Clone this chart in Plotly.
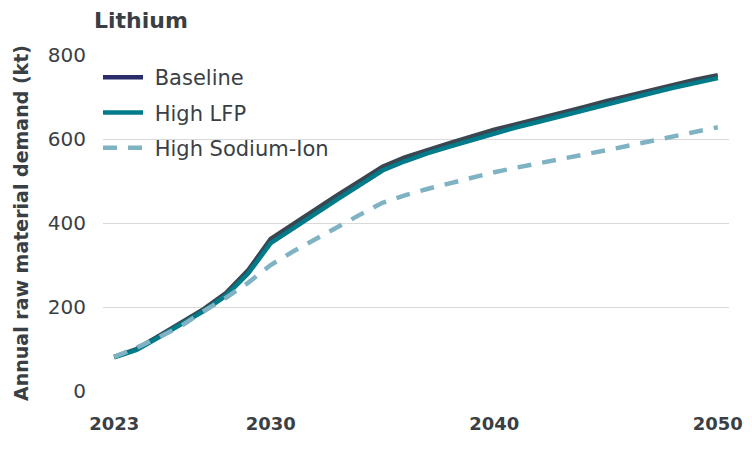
import plotly.graph_objects as go

years = list(range(2023, 2051))

baseline = [81, 100, 131, 162, 195, 233, 288, 362, 398, 432, 467, 500, 534, 556,
            574, 590, 606, 622, 635, 648, 662, 676, 690, 703, 716, 729, 741, 752]
high_lfp = [80, 98, 128, 158, 190, 227, 280, 352, 388, 423, 457, 491, 525, 547,
            566, 582, 598, 614, 628, 641, 655, 669, 683, 696, 709, 722, 734, 745]
high_sodium = [81, 103, 128, 155, 190, 222, 258, 300, 332, 362, 392, 420, 448, 466,
               481, 495, 508, 521, 532, 543, 553, 563, 573, 584, 595, 606, 617, 628]

x_ticks = [2023, 2030, 2040, 2050]
y_ticks = [0, 200, 400, 600, 800]

text_col = "#3a3f45"
font = "DejaVu Sans"

fig = go.Figure()
# baseline drawn in grey under the teal line, legend swatch in navy
fig.add_trace(go.Scatter(x=years, y=baseline, mode="lines", showlegend=False,
                         line=dict(color="#3b4651", width=4.5)))
fig.add_trace(go.Scatter(x=[None], y=[None], mode="lines", name=" Baseline",
                         legendgroup="a", line=dict(color="#2b2a6b", width=4.5)))
fig.add_trace(go.Scatter(x=years, y=high_lfp, mode="lines", name=" High LFP",
                         legendgroup="b", line=dict(color="#007b8a", width=4.5)))
fig.add_trace(go.Scatter(x=years, y=high_sodium, mode="lines", name=" High Sodium-Ion",
                         legendgroup="c",
                         line=dict(color="#7fb3c4", width=4.5, dash="14px,11px")))

# page is drawn with an 8px offset, so margins are shifted to compensate
fig.update_layout(
    width=752, height=451,
    margin=dict(l=95, r=31, t=47, b=68, autoexpand=False),
    plot_bgcolor="white", paper_bgcolor="white",
    font=dict(family=font, size=20, color=text_col),
    title=dict(text="<b>Lithium</b>", x=86/752, xanchor="left", y=1 - 12/451,
               yanchor="middle", font=dict(size=22, color=text_col)),
    legend=dict(x=-5/626, y=1 - 2/336, xanchor="left", yanchor="top",
                bgcolor="rgba(0,0,0,0)", font=dict(size=21, color=text_col),
                tracegroupgap=5, itemwidth=40),
)
fig.update_xaxes(range=[2022.5, 2050.5], tickvals=x_ticks,
                 ticktext=[f"<b>{t}</b>" for t in x_ticks],
                 showgrid=False, zeroline=False, showline=False, automargin=False,
                 ticks="", ticklabelstandoff=20, tickfont=dict(size=18))
fig.update_yaxes(range=[0, 800], tickvals=y_ticks, gridcolor="#d9d9d9",
                 gridwidth=1, zeroline=False, showline=False, ticks="",
                 automargin=False, ticklabelstandoff=16, tickfont=dict(size=20),
                 title=dict(text="<b>Annual raw material demand (kt)</b>",
                            font=dict(size=19, color=text_col), standoff=14))

fig.write_html("out.html")
